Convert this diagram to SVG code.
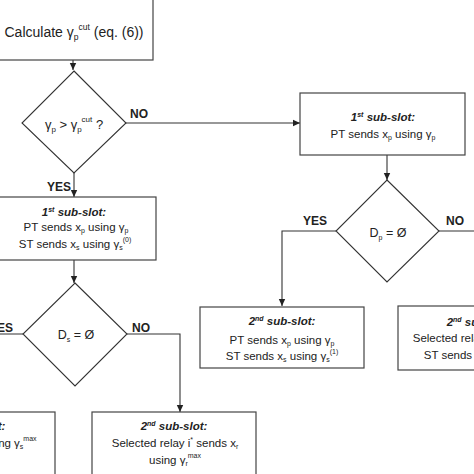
<svg xmlns="http://www.w3.org/2000/svg" width="474" height="474" viewBox="0 0 474 474">
<defs>
<marker id="arr" markerWidth="8" markerHeight="8" refX="7" refY="4" orient="auto" markerUnits="userSpaceOnUse">
<path d="M0,0.8 L7,4 L0,7.2 Z" fill="#222"/>
</marker>
<style>
.box{fill:#fff;stroke:#444;stroke-width:1.2}
.dia{fill:#fff;stroke:#333;stroke-width:1.1}
.con{fill:none;stroke:#333;stroke-width:1.1}
text{font-family:"Liberation Sans","Noto Sans",Arial,sans-serif;fill:#222;font-size:11.5px}
.t{text-anchor:middle}
.h{font-weight:bold;font-style:italic}
.lbl{font-weight:bold;font-size:12px}
.s{font-size:7px}
</style>
</defs>
<rect width="474" height="474" fill="#fff"/>

<g id="connectors">
<line class="con" x1="73" y1="60" x2="73" y2="70" marker-end="url(#arr)"/>
<line class="con" x1="126" y1="123" x2="300" y2="123" marker-end="url(#arr)"/>
<line class="con" x1="74" y1="173" x2="74" y2="197" marker-end="url(#arr)"/>
<line class="con" x1="387" y1="155" x2="387" y2="180" marker-end="url(#arr)"/>
<polyline class="con" points="336,231 282,231 282,306" marker-end="url(#arr)"/>
<polyline class="con" points="439,231 480,231 480,306" marker-end="url(#arr)"/>
<line class="con" x1="74" y1="260" x2="74" y2="283" marker-end="url(#arr)"/>
<polyline class="con" points="23,334 -28,334 -28,412" marker-end="url(#arr)"/>
<polyline class="con" points="127,334 180,334 180,412" marker-end="url(#arr)"/>
<text class="lbl" x="130" y="118">NO</text>
<text class="lbl" x="47" y="191">YES</text>
<text class="lbl" x="303" y="225">YES</text>
<text class="lbl" x="446" y="225">NO</text>
<text class="lbl" x="13" y="332" text-anchor="end">YES</text>
<text class="lbl" x="132" y="332">NO</text>
</g>

<g id="calc">
<rect class="box" x="-10" y="-10" width="163" height="70"/>
<text class="t" x="74" y="37" style="font-size:14px">Calculate γ<tspan class="s" dy="3" style="font-size:8.5px">p</tspan><tspan class="s" dy="-10" style="font-size:8.5px">cut</tspan><tspan dy="7"> (eq. (6))</tspan></text>
</g>

<g id="dec1">
<polygon class="dia" points="74,71 126,123 74,173 22,123"/>
<text class="t" x="74" y="129" style="font-size:13px">γ<tspan class="s" dy="3" style="font-size:8px">p</tspan><tspan dy="-3"> &gt; γ</tspan><tspan class="s" dy="3" style="font-size:8px">p</tspan><tspan class="s" dy="-10" style="font-size:8px">cut</tspan><tspan dy="7"> ?</tspan></text>
</g>

<g id="slot1a">
<rect class="box" x="-10" y="197" width="166" height="63"/>
<text class="t h" x="74" y="216">1<tspan class="s" dy="-4">st</tspan><tspan dy="4"> sub-slot:</tspan></text>
<text class="t" x="76" y="231">PT sends x<tspan class="s" dy="2">p</tspan><tspan dy="-2"> using γ</tspan><tspan class="s" dy="2">p</tspan></text>
<text class="t" x="75" y="248">ST sends x<tspan class="s" dy="2">s</tspan><tspan dy="-2"> using γ</tspan><tspan class="s" dy="2">s</tspan><tspan class="s" dy="-8">(0)</tspan></text>
</g>

<g id="slot1b">
<rect class="box" x="300" y="93" width="165" height="62"/>
<text class="t h" x="383" y="121">1<tspan class="s" dy="-4">st</tspan><tspan dy="4"> sub-slot:</tspan></text>
<text class="t" x="383" y="138">PT sends x<tspan class="s" dy="2">p</tspan><tspan dy="-2"> using γ</tspan><tspan class="s" dy="2">p</tspan></text>
</g>

<g id="dec2">
<polygon class="dia" points="387,180 439,231 387,282 336,231"/>
<text class="t" x="388" y="237" style="font-size:12.5px">D<tspan class="s" dy="3">p</tspan><tspan dy="-3"> = Ø</tspan></text>
</g>

<g id="dec3">
<polygon class="dia" points="75,283 127,334 75,386 23,334"/>
<text class="t" x="76" y="339" style="font-size:12.5px">D<tspan class="s" dy="3">s</tspan><tspan dy="-3"> = Ø</tspan></text>
</g>

<g id="slot2a">
<rect class="box" x="200" y="307" width="164" height="61"/>
<text class="t h" x="282" y="325">2<tspan class="s" dy="-4">nd</tspan><tspan dy="4"> sub-slot:</tspan></text>
<text class="t" x="282" y="344">PT sends x<tspan class="s" dy="2">p</tspan><tspan dy="-2"> using γ</tspan><tspan class="s" dy="2">p</tspan></text>
<text class="t" x="282" y="360">ST sends x<tspan class="s" dy="2">s</tspan><tspan dy="-2"> using γ</tspan><tspan class="s" dy="2">s</tspan><tspan class="s" dy="-8">(1)</tspan></text>
</g>

<g id="slot2b">
<rect class="box" x="398" y="306" width="164" height="64"/>
<text class="t h" x="480" y="326">2<tspan class="s" dy="-4">nd</tspan><tspan dy="4"> sub-slot:</tspan></text>
<text class="t" x="476" y="342">Selected relay i<tspan class="s" dy="-5">*</tspan><tspan dy="5"> sends x</tspan><tspan class="s" dy="2">r</tspan></text>
<text class="t" x="480" y="359">ST sends x<tspan class="s" dy="2">s</tspan><tspan dy="-2"> using γ</tspan><tspan class="s" dy="2">s</tspan><tspan class="s" dy="-8">(2)</tspan></text>
</g>

<g id="slot2c">
<rect class="box" x="92" y="412" width="164" height="70"/>
<text class="t h" x="174" y="430">2<tspan class="s" dy="-4">nd</tspan><tspan dy="4"> sub-slot:</tspan></text>
<text class="t" x="175" y="447">Selected relay i<tspan class="s" dy="-5">*</tspan><tspan dy="5"> sends x</tspan><tspan class="s" dy="2">r</tspan></text>
<text class="t" x="175" y="464">using γ<tspan class="s" dy="2">r</tspan><tspan class="s" dy="-8">max</tspan></text>
</g>

<g id="slot2d">
<rect class="box" x="-110" y="412" width="165" height="70"/>
<text class="t h" x="-28" y="430">2<tspan class="s" dy="-4">nd</tspan><tspan dy="4"> sub-slot:</tspan></text>
<text class="t" x="-22" y="447">ST sends x<tspan class="s" dy="2">s</tspan><tspan dy="-2"> using γ</tspan><tspan class="s" dy="2">s</tspan><tspan class="s" dy="-8">max</tspan></text>
</g>
</svg>
